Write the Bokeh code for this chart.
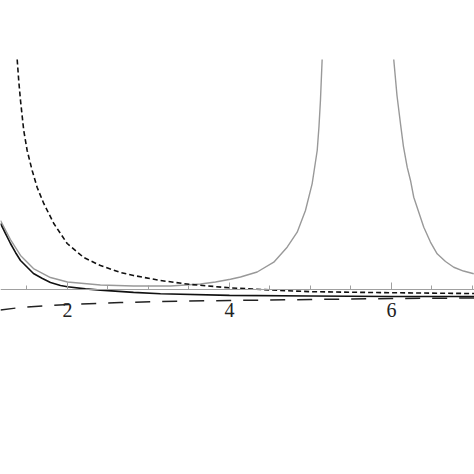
from bokeh.plotting import figure
from bokeh.models import LinearAxis, FixedTicker, Range1d
from bokeh.embed import file_html
from bokeh.resources import INLINE

# Gray solid curve (two branches around a vertical asymptote)
gray_left_x = [1.173, 1.296, 1.420, 1.580, 1.790, 2.000, 2.407, 2.815, 3.272, 3.642, 3.827,
               4.012, 4.136, 4.342, 4.547, 4.712, 4.836, 4.938, 5.021, 5.083, 5.105, 5.123, 5.144]
gray_left_y = [0.846, 0.611, 0.414, 0.253, 0.142, 0.086, 0.049, 0.037, 0.037, 0.062, 0.086,
               0.120, 0.148, 0.210, 0.331, 0.516, 0.701, 0.969, 1.302, 1.710, 2.006, 2.327, 2.833]
gray_right_x = [6.028, 6.068, 6.111, 6.148, 6.194, 6.235, 6.275, 6.399, 6.481, 6.564, 6.667,
                6.769, 6.889, 7.016]
gray_right_y = [2.833, 2.389, 2.043, 1.759, 1.504, 1.340, 1.133, 0.763, 0.580, 0.435, 0.340,
                0.269, 0.222, 0.188]

# Black solid curve
black_x = [1.173, 1.235, 1.296, 1.358, 1.420, 1.506, 1.580, 1.691, 1.790, 1.914, 2.000,
           2.222, 2.407, 2.815, 3.148, 4.000, 5.000, 6.000, 7.025]
black_y = [0.809, 0.685, 0.562, 0.451, 0.352, 0.265, 0.191, 0.130, 0.080, 0.043, 0.027,
           0.002, -0.014, -0.041, -0.059, -0.078, -0.086, -0.093, -0.093]

# Fine dashed curve
dash_x = [1.379, 1.398, 1.420, 1.460, 1.502, 1.564, 1.626, 1.707, 1.831, 1.996, 2.201,
          2.407, 2.654, 2.815, 3.148, 3.519, 4.000, 4.506, 5.000, 6.000, 7.025]
dash_y = [2.833, 2.574, 2.327, 1.957, 1.710, 1.463, 1.253, 1.056, 0.809, 0.562, 0.389,
          0.290, 0.204, 0.167, 0.105, 0.056, 0.015, -0.012, -0.033, -0.046, -0.056]

# Long dashed curve
long_x = [1.173, 1.420, 1.790, 2.160, 2.654, 3.148, 4.000, 5.000, 6.000, 7.025]
long_y = [-0.259, -0.228, -0.204, -0.185, -0.167, -0.154, -0.142, -0.130, -0.117, -0.111]

major_ticks = [2, 4, 6]
minor_ticks = [1.5, 2.5, 3, 3.5, 4.5, 5, 5.5, 6.5, 7]

p = figure(width=474, height=474, output_backend="svg", toolbar_location=None,
           x_range=Range1d(1.173, 7.025), y_range=Range1d(-2.290, 3.562),
           x_axis_location=None, y_axis_location=None, min_border=0)
p.grid.visible = False
p.outline_line_color = None
p.background_fill_color = "white"
p.border_fill_color = "white"

ax = LinearAxis(fixed_location=0, ticker=FixedTicker(ticks=major_ticks, minor_ticks=minor_ticks))
ax.axis_line_color = "#a0a0a0"
ax.axis_line_width = 1.2
ax.major_tick_line_color = "#a0a0a0"
ax.minor_tick_line_color = "#a0a0a0"
ax.major_tick_in = 7
ax.major_tick_out = 0
ax.minor_tick_in = 4
ax.minor_tick_out = 0
ax.major_label_standoff = 14
ax.major_label_text_font = "Liberation Serif"
ax.major_label_text_font_size = "20px"
ax.major_label_text_color = "#222222"
p.add_layout(ax, "below")

p.line(gray_left_x, gray_left_y, line_color="#999999", line_width=1.4)
p.line(gray_right_x, gray_right_y, line_color="#999999", line_width=1.4)
p.line(black_x, black_y, line_color="#111111", line_width=1.6)
p.line(dash_x, dash_y, line_color="#111111", line_width=1.6, line_dash="5 3")
p.line(long_x, long_y, line_color="#222222", line_width=1.5, line_dash="15 12")

open("out.html", "w").write(file_html(p, INLINE))
